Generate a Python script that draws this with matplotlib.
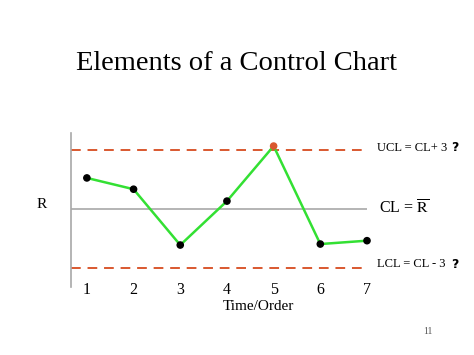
"""Elements of a control chart (R chart sketch)."""

import matplotlib
matplotlib.use('Agg')
from matplotlib import pyplot as plt

plt.rcParams['font.family'] = ['Liberation Serif', 'DejaVu Serif']
plt.rcParams['mathtext.fontset'] = 'stix'

order = [1, 2, 3, 4, 5, 6, 7]
r_values = [1.57, 1.0, -1.82, 0.4, 3.18, -1.77, -1.6]
ucl = 3.0
cl = 0.0
lcl = -3.0
out_of_control = [4]  # index of the point above UCL

RED = '#d9582f'
GREEN = '#33e033'
GRAY = '#a8a8a8'


def plot_chart():
    """Draw the chart and save it."""
    fig = plt.figure(figsize=(4.74, 3.55), dpi=100)
    ax = fig.add_axes([71 / 474, 68 / 355, 296 / 474, 154 / 355])
    ax.set_xlim(0.66, 6.93)
    ax.set_ylim(-3.94, 3.84)

    ax.axhline(ucl, color=RED, lw=1.4, ls=(0, (5, 3.5)))
    ax.axhline(lcl, color=RED, lw=1.4, ls=(0, (5, 3.5)))
    ax.axhline(cl, color=GRAY, lw=1.2)
    ax.plot(order, r_values, color=GREEN, lw=1.8, zorder=3, clip_on=False)
    colors = [RED if i in out_of_control else 'black' for i in range(len(order))]
    ax.scatter(order, r_values, s=20, c=colors, zorder=4, clip_on=False)

    for side in ('top', 'right', 'bottom'):
        ax.spines[side].set_visible(False)
    ax.spines['left'].set_color(GRAY)
    ax.spines['left'].set_linewidth(1.2)
    ax.set_yticks([])
    ax.set_xticks(order)
    ax.tick_params(axis='x', length=0, pad=-3.6, labelsize=11.5)

    trans = ax.get_yaxis_transform()
    ax.text(1.034, ucl + 0.1, 'UCL = CL+ 3', transform=trans, fontsize=9,
            va='center', ha='left')
    ax.text(1.285, ucl + 0.1, '?', transform=trans, fontsize=9, va='center',
            ha='left', family=['DejaVu Sans'], weight='bold')
    ax.text(1.04, cl, r'CL = $\overline{\mathrm{R}}$', transform=trans,
            fontsize=11.5, va='center', ha='left')
    ax.text(1.034, lcl + 0.2, 'LCL = CL - 3', transform=trans, fontsize=9,
            va='center', ha='left')
    ax.text(1.285, lcl + 0.2, '?', transform=trans, fontsize=9, va='center',
            ha='left', family=['DejaVu Sans'], weight='bold')

    fig.text(0.499, 1 - 64 / 355, 'Elements of a Control Chart',
             fontsize=20.5, ha='center', va='center')
    fig.text(258 / 474, 1 - 306 / 355, 'Time/Order', fontsize=11,
             ha='center', va='center')
    fig.text(42 / 474, 1 - 205 / 355, 'R', fontsize=11, ha='center',
             va='center')
    fig.text(428 / 474, 1 - 332 / 355, '11', fontsize=7, color='#555555',
             ha='center', va='center')

    fig.savefig('out.png', dpi=100)


def main():
    """Run."""
    plot_chart()


if __name__ == '__main__':
    main()
